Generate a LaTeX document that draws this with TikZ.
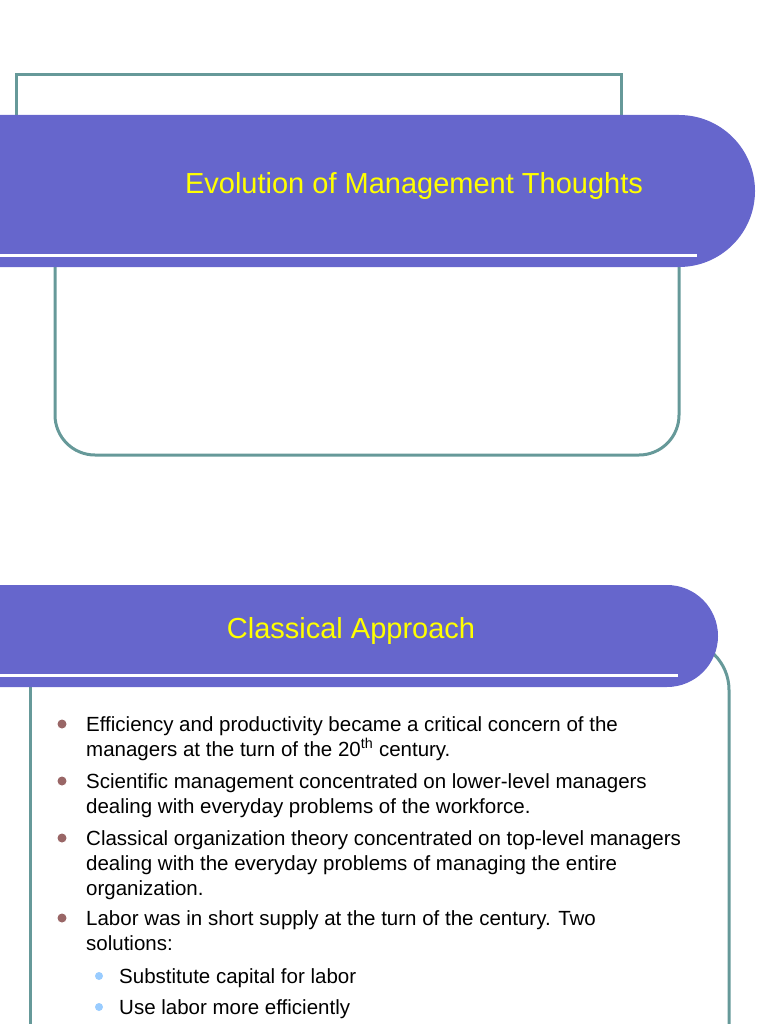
\documentclass[tikz,border=0pt]{standalone}
\usepackage{fontspec}
\setmainfont{Liberation Sans}
\definecolor{band}{HTML}{6666CC}
\definecolor{teal}{HTML}{669999}
\definecolor{ttl}{HTML}{FFFF00}
\definecolor{bul}{HTML}{996666}
\definecolor{sbul}{HTML}{99CCFF}
\tikzset{frame/.style={draw=teal,line width=3pt},
 body/.style={anchor=base west,font=\fontsize{20.5}{24}\selectfont,inner sep=0},
 bdot/.style={circle,fill=bul,inner sep=0,minimum size=9pt},
 sdot/.style={circle,fill=sbul,inner sep=0,minimum size=8pt}}
\begin{document}
\begin{tikzpicture}[x=1pt,y=-1pt]
\useasboundingbox (0,0) rectangle (768,1024);
% slide 1
\draw[frame] (16,115) -- (16,75) -- (621,75) -- (621,115);
\draw[frame,rounded corners=40] (55,200) -- (55,455) -- (679,455) -- (679,200);
\fill[band,rounded corners=76] (-100,115) rectangle (755,267);
\draw[white,line width=3pt] (0,255) -- (697,255);
\node[text=ttl,font=\fontsize{29}{34}\selectfont] (t1) at (414,186) {Evolution of Management Thoughts};
% slide 2
\draw[frame] (30,1030) -- (30,687);
\draw[frame,rounded corners=50] (650,640) -- (729,640) -- (729,1030);
\fill[band,rounded corners=51] (-100,585) rectangle (718,687);
\draw[white,line width=3pt] (0,675) -- (678,675);
\node[text=ttl,font=\fontsize{29}{34}\selectfont] (t2) at (351,631) {Classical Approach};
\foreach \y in {724,781,838,918} \node[bdot] at (62,\y) {};
\foreach \y in {976,1007} \node[sdot] at (99,\y) {};
\node[body] (l1) at (86,731) {Efficiency and productivity became a critical concern of the};
\node[body] (l2) at (86,756) {managers at the turn of the 20\textsuperscript{th} century.};
\node[body] (l3) at (86,788) {Scientific management concentrated on lower-level managers};
\node[body] (l4) at (86,813) {dealing with everyday problems of the workforce.};
\node[body] (l5) at (86,845) {Classical organization theory concentrated on top-level managers};
\node[body] (l6) at (86,870) {dealing with the everyday problems of managing the entire};
\node[body] (l7) at (86,895) {organization.};
\node[body] (l8) at (86,925) {Labor was in short supply at the turn of the century. Two};
\node[body] (l9) at (86,950) {solutions:};
\node[body] (l10) at (119,983) {Substitute capital for labor};
\node[body] (l11) at (119,1014) {Use labor more efficiently};
\end{tikzpicture}
\end{document}
